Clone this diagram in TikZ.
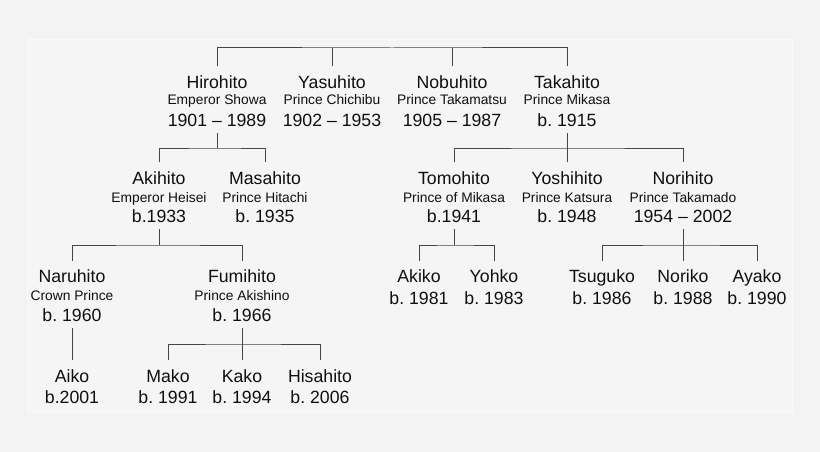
\documentclass[tikz,border=0pt]{standalone}
\usepackage{fontspec}
\setmainfont{Liberation Sans}
\usepackage{tikz}

\definecolor{pagegray}{RGB}{243,243,243}
\definecolor{boxgray}{RGB}{245,245,245}
\definecolor{boxedge}{RGB}{249,249,249}
\definecolor{linegray}{RGB}{70,70,70}
\definecolor{textgray}{RGB}{15,15,15}

\begin{document}
\frenchspacing
\begin{tikzpicture}[x=1pt,y=-1pt]
        \tikzstyle{namenode}=[
            anchor=base,
            inner xsep=0pt,
            inner ysep=9pt,
            text height=12.7pt,
            text depth=3.7pt,
            font=\fontsize{17.7}{20}\selectfont,
            text=textgray
        ]
        \tikzstyle{titlenode}=[
            anchor=base,
            inner sep=0pt,
            font=\fontsize{13.8}{16}\selectfont,
            text=textgray
        ]
        \tikzstyle{yearnode}=[
            anchor=base,
            inner xsep=0pt,
            inner ysep=3.5pt,
            text height=12.7pt,
            text depth=3.7pt,
            font=\fontsize{17.7}{20}\selectfont,
            text=textgray
        ]
        \tikzstyle{tree}=[
            draw=linegray,
            line width=1pt
        ]

        \useasboundingbox (0,0) rectangle (820,452);
        \fill[pagegray] (0,0) rectangle (820,452);
        \draw[boxedge, fill=boxgray, line width=1pt] (27,40) rectangle (792,412);

        % first generation
        \node[namenode] (hiro) at (217,88.3){Hirohito};
        \node[titlenode] (hiroT) at (217,105){Emperor Showa};
        \node[yearnode] (hiroY) at (217,126){1901 \textendash{} 1989};
        \node[namenode] (yasu) at (332,88.3){Yasuhito};
        \node[titlenode] (yasuT) at (332,105){Prince Chichibu};
        \node[yearnode] (yasuY) at (332,126){1902 \textendash{} 1953};
        \node[namenode] (nobu) at (452,88.3){Nobuhito};
        \node[titlenode] (nobuT) at (452,105){Prince Takamatsu};
        \node[yearnode] (nobuY) at (452,126){1905 \textendash{} 1987};
        \node[namenode] (taka) at (567,88.3){Takahito};
        \node[titlenode] (takaT) at (567,105){Prince Mikasa};
        \node[yearnode] (takaY) at (567,126){b. 1915};

        % second generation
        \node[namenode] (aki) at (159,184.3){Akihito};
        \node[titlenode] (akiT) at (159,202){Emperor Heisei};
        \node[yearnode] (akiY) at (159,222){b.1933};
        \node[namenode] (masa) at (265,184.3){Masahito};
        \node[titlenode] (masaT) at (265,202){Prince Hitachi};
        \node[yearnode] (masaY) at (265,222){b. 1935};
        \node[namenode] (tomo) at (454,184.3){Tomohito};
        \node[titlenode] (tomoT) at (454,202){Prince of Mikasa};
        \node[yearnode] (tomoY) at (454,222){b.1941};
        \node[namenode] (yoshi) at (567,184.3){Yoshihito};
        \node[titlenode] (yoshiT) at (567,202){Prince Katsura};
        \node[yearnode] (yoshiY) at (567,222){b. 1948};
        \node[namenode] (nori) at (683,184.3){Norihito};
        \node[titlenode] (noriT) at (683,202){Prince Takamado};
        \node[yearnode] (noriY) at (683,222){1954 \textendash{} 2002};

        % third generation
        \node[namenode] (naru) at (72,282.7){Naruhito};
        \node[titlenode] (naruT) at (72,300){Crown Prince};
        \node[yearnode] (naruY) at (72,321){b. 1960};
        \node[namenode] (fumi) at (242,282.7){Fumihito};
        \node[titlenode] (fumiT) at (242,300){Prince Akishino};
        \node[yearnode] (fumiY) at (242,321){b. 1966};
        \node[namenode] (akiko) at (419,282.7){Akiko};
        \node[yearnode] (akikoY) at (419,304.3){b. 1981};
        \node[namenode] (yohko) at (494,282.7){Yohko};
        \node[yearnode] (yohkoY) at (494,304.3){b. 1983};
        \node[namenode] (tsugu) at (602,282.7){Tsuguko};
        \node[yearnode] (tsuguY) at (602,304.3){b. 1986};
        \node[namenode] (noriko) at (683,282.7){Noriko};
        \node[yearnode] (norikoY) at (683,304.3){b. 1988};
        \node[namenode] (ayako) at (757,282.7){Ayako};
        \node[yearnode] (ayakoY) at (757,304.3){b. 1990};

        % fourth generation
        \node[namenode] (aiko) at (72,382){Aiko};
        \node[yearnode] (aikoY) at (72,403.3){b.2001};
        \node[namenode] (mako) at (168,382){Mako};
        \node[yearnode] (makoY) at (168,403.3){b. 1991};
        \node[namenode] (kako) at (242,382){Kako};
        \node[yearnode] (kakoY) at (242,403.3){b. 1994};
        \node[namenode] (hisa) at (320,382){Hisahito};
        \node[yearnode] (hisaY) at (320,403.3){b. 2006};

        % junctions
        \coordinate (topJ) at (392,48);
        \coordinate (hiroJ) at (217,148);
        \coordinate (takaJ) at (567,148);
        \coordinate (akiJ) at (159,245);
        \coordinate (tomoJ) at (454,245);
        \coordinate (noriJ) at (683,245);
        \coordinate (fumiJ) at (242,344);

        \draw[tree] (hiro.north) |- (topJ) -| (taka.north);
        \draw[tree] (yasu.north) -- (yasu.north |- topJ);
        \draw[tree] (nobu.north) -- (nobu.north |- topJ);

        \draw[tree] (hiroY.south) -- (hiroJ);
        \draw[tree] (aki.north) |- (hiroJ) -| (masa.north);

        \draw[tree] (takaY.south) -- (takaJ);
        \draw[tree] (tomo.north) |- (takaJ) -| (nori.north);
        \draw[tree] (yoshi.north) -- (takaJ);

        \draw[tree] (akiY.south) -- (akiJ);
        \draw[tree] (naru.north) |- (akiJ) -| (fumi.north);

        \draw[tree] (tomoY.south) -- (tomoJ);
        \draw[tree] (akiko.north) |- (tomoJ) -| (yohko.north);

        \draw[tree] (noriY.south) -- (noriJ);
        \draw[tree] (tsugu.north) |- (noriJ) -| (ayako.north);
        \draw[tree] (noriko.north) -- (noriJ);

        \draw[tree] (naruY.south) -- (aiko.north);

        \draw[tree] (fumiY.south) -- (fumiJ);
        \draw[tree] (mako.north) |- (fumiJ) -| (hisa.north);
        \draw[tree] (kako.north) -- (fumiJ);

    \end{tikzpicture}
\end{document}
